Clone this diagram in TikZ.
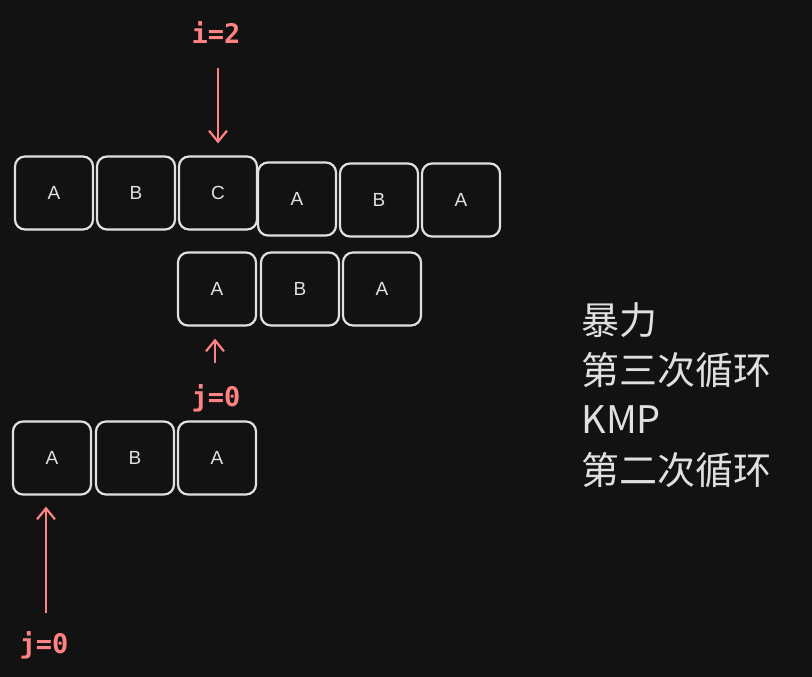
\documentclass[tikz,border=0pt]{standalone}
\usetikzlibrary{arrows.meta}
\usepackage{fontspec}
\setsansfont{Liberation Sans}
\setmonofont{DejaVu Sans Mono}
\newfontfamily\cjk{Noto Sans CJK SC}
\definecolor{bg}{HTML}{121212}
\definecolor{fg}{HTML}{E0E0E0}
\definecolor{rd}{HTML}{FF8383}
\begin{document}
\begin{tikzpicture}[x=1pt,y=-1pt,
 cell/.style={draw=fg,line width=2.2pt,rounded corners=10pt,minimum width=78pt,minimum height=73pt,text=fg,font=\sffamily\fontsize{19}{19}\selectfont},
 lab/.style={text=rd,font=\ttfamily\bfseries\fontsize{27}{27}\selectfont},
 parr/.style={draw=rd,line width=2.2pt,-{Straight Barb[length=11pt,width=18pt]}},
 note/.style={text=fg,anchor=west,font=\cjk\fontsize{38}{38}\selectfont}]
\fill[bg] (0,0) rectangle (812,677);
\useasboundingbox (0,0) rectangle (812,677);
\node[cell] (a1) at (54,193) {A};
\node[cell] (a2) at (136,193) {B};
\node[cell] (a3) at (218,193) {C};
\node[cell] (a4) at (297,199) {A};
\node[cell] (a5) at (379,200) {B};
\node[cell] (a6) at (461,200) {A};
\node[cell] (b1) at (217,289) {A};
\node[cell] (b2) at (300,289) {B};
\node[cell] (b3) at (382,289) {A};
\node[cell] (c1) at (52,458) {A};
\node[cell] (c2) at (135,458) {B};
\node[cell] (c3) at (217,458) {A};
\node[lab] (i) at (216,33) {i=2};
\node[lab] (j1) at (216,398) {j=0};
\node[lab] (j2) at (44,645) {j=0};
\coordinate (ia) at (218,68);
\coordinate (j1a) at (215,363);
\coordinate (j2a) at (46,613);
\draw[parr] (ia) -- ([yshift=12pt]a3.north);
\draw[parr] (j1a) -- ([yshift=-12pt]b1.south -| j1a);
\draw[parr] (j2a) -- ([yshift=-11pt]c1.south -| j2a);
\node[note] (t1) at (578,320) {暴力};
\node[note] (t2) at (578,370) {第三次循环};
\node[note] (t3) at (578,420) {KMP};
\node[note] (t4) at (578,470) {第二次循环};
\end{tikzpicture}
\end{document}
